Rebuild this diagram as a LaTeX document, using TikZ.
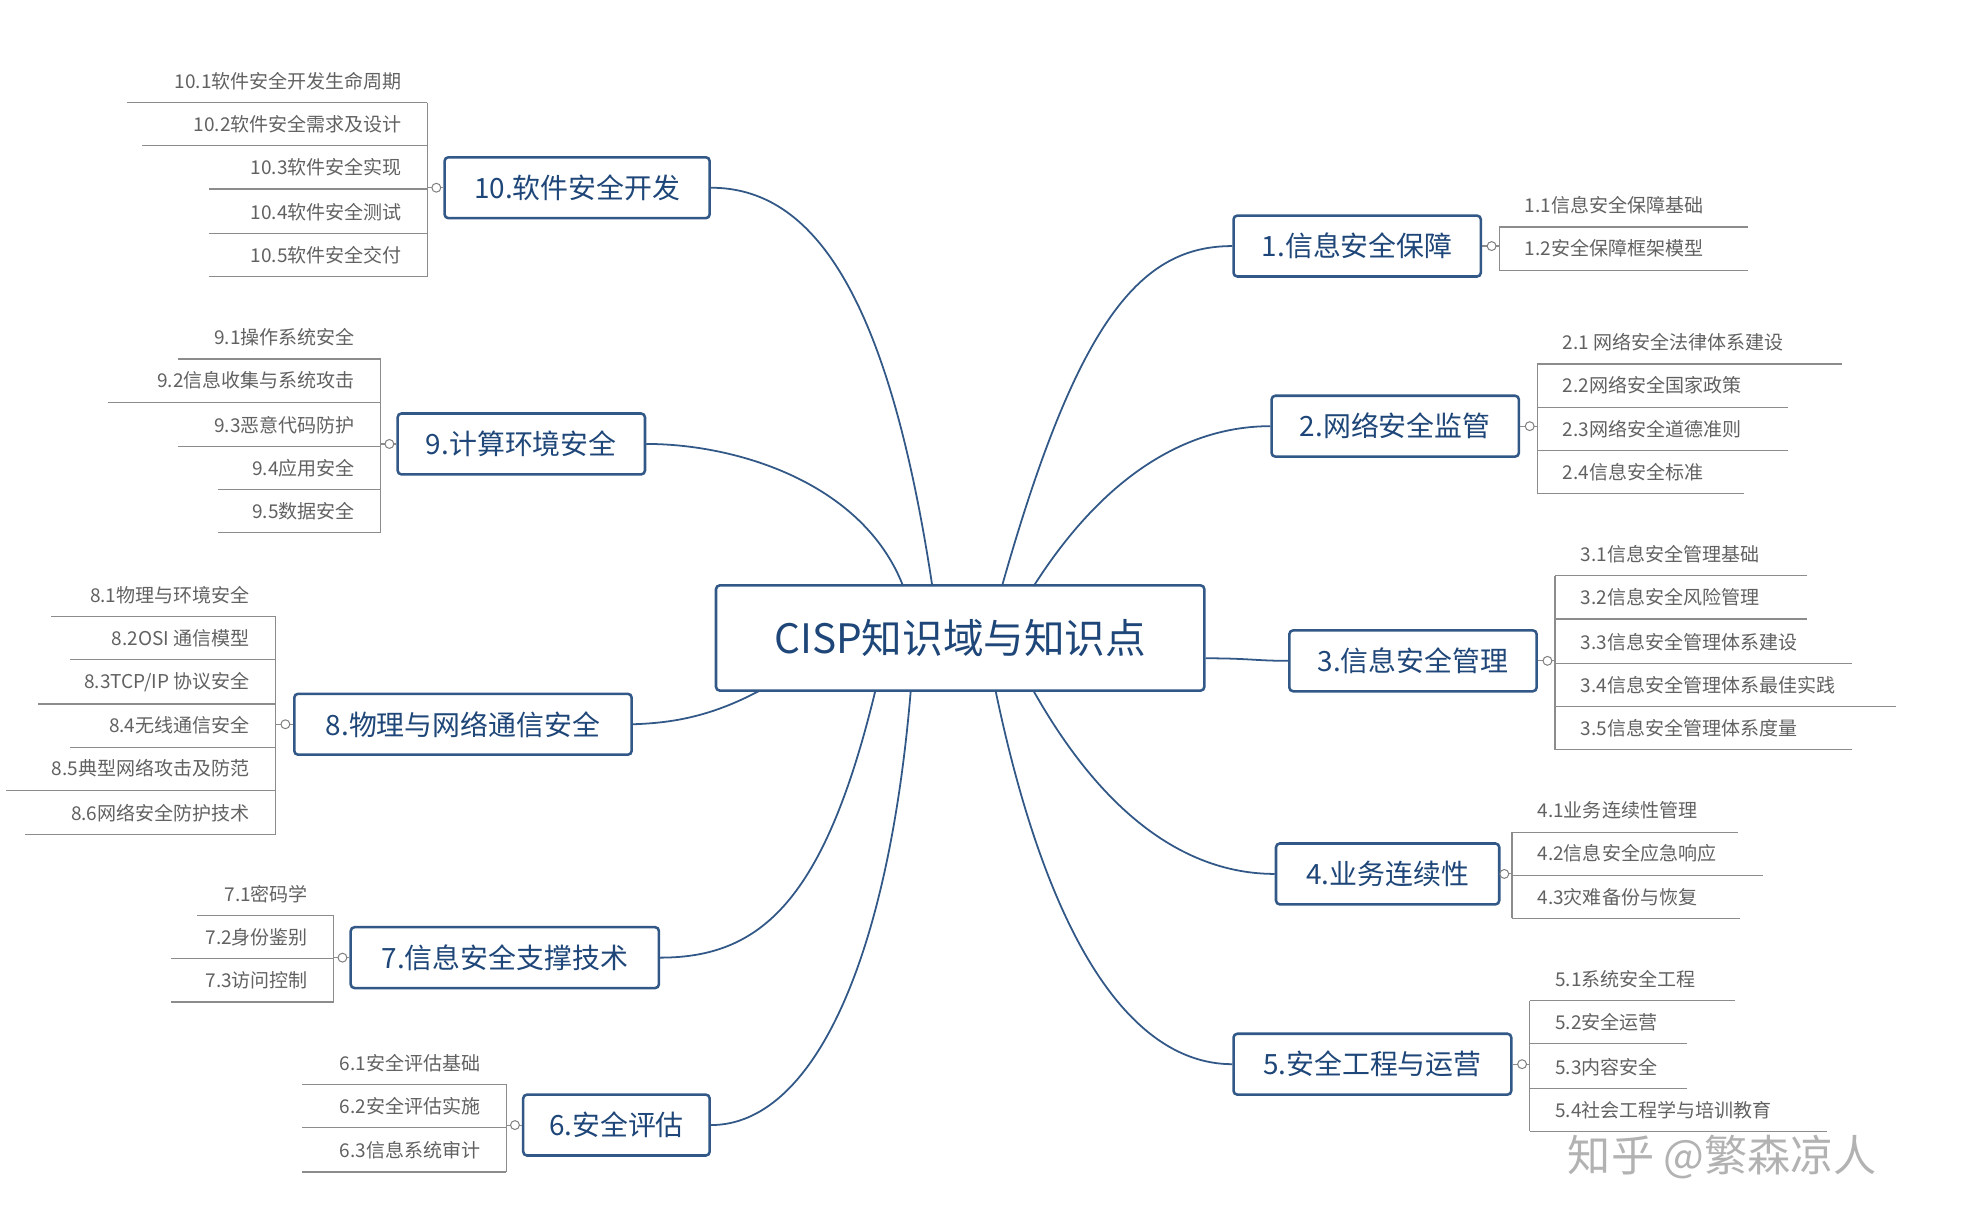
\documentclass[tikz,border=0pt]{standalone}
\usepackage{fontspec}
\setmainfont{Noto Sans CJK SC}
\definecolor{bl}{RGB}{50,88,135}
\definecolor{bt}{RGB}{30,70,120}
\begin{document}
\begin{tikzpicture}[x=1pt,y=-1pt,
  bc/.style={draw=bl,line width=2pt,rounded corners=3pt,fill=white,text=bt,inner sep=0pt},
  main/.style={bc,minimum height=48pt,font=\fontsize{22}{24}\selectfont},
  item/.style={text=black!62,font=\fontsize{15}{17}\selectfont,inner sep=0pt},
  ln/.style={draw=bl,line width=1.4pt},
  thin/.style={draw=black!45,line width=0.9pt},
  dot/.style={circle,draw=black!50,fill=white,line width=0.8pt,minimum size=7pt,inner sep=0pt}]
\useasboundingbox (0,0) rectangle (1550,966);
\node[bc,minimum width=385pt,minimum height=83pt,font=\fontsize{32}{34}\selectfont] (c) at (757,503) {CISP知识域与知识点};
\node[main,minimum width=195pt] (n1) at (1070,194) {1.信息安全保障};
\node[main,minimum width=195pt] (n2) at (1100,336) {2.网络安全监管};
\node[main,minimum width=195pt] (n3) at (1114,521) {3.信息安全管理};
\node[main,minimum width=176pt] (n4) at (1094,689) {4.业务连续性};
\node[main,minimum width=219pt] (n5) at (1082,839) {5.安全工程与运营};
\node[main,minimum width=147pt] (n6) at (486,887) {6.安全评估};
\node[main,minimum width=243pt] (n7) at (398,755) {7.信息安全支撑技术};
\node[main,minimum width=266pt] (n8) at (365,571) {8.物理与网络通信安全};
\node[main,minimum width=195pt] (n9) at (411,350) {9.计算环境安全};
\node[main,minimum width=209pt] (n10) at (455,148) {10.软件安全开发};
\coordinate (c1) at (790,462);\coordinate (c2) at (815,462);
\coordinate (c4) at (815,545);\coordinate (c5) at (785,545);
\coordinate (c10) at (735,462);\coordinate (c9) at (712,462);
\coordinate (c8) at (598,545);\coordinate (c7) at (690,545);\coordinate (c6) at (718,545);
\draw[ln] (c1) .. controls (850,250) and (900,194) .. (n1.west);
\draw[ln] (c2) .. controls (880,360) and (950,336) .. (n2.west);
\draw[ln] (c.east |- 0,519) .. controls (985,519) and (990,521) .. (n3.west);
\draw[ln] (c4) .. controls (880,660) and (950,689) .. (n4.west);
\draw[ln] (c5) .. controls (830,760) and (900,839) .. (n5.west);
\draw[ln] (c10) .. controls (700,230) and (640,148) .. (n10.east);
\draw[ln] (c9) .. controls (680,380) and (580,350) .. (n9.east);
\draw[ln] (c8) .. controls (560,565) and (530,570) .. (n8.east);
\draw[ln] (c7) .. controls (650,710) and (600,755) .. (n7.east);
\draw[ln] (c6) .. controls (700,760) and (640,887) .. (n6.east);
% right groups
\foreach \g/\xb/\lst in {n1/1182/{162/1378/1.1信息安全保障基础,196/1378/1.2安全保障框架模型},
 n2/1212/{270/1452/2.1 网络安全法律体系建设,304/1410/2.2网络安全国家政策,338/1410/2.3网络安全道德准则,372/1375/2.4信息安全标准},
 n3/1226/{437/1425/3.1信息安全管理基础,471/1425/3.2信息安全风险管理,506/1460/3.3信息安全管理体系建设,540/1495/3.4信息安全管理体系最佳实践,574/1460/3.5信息安全管理体系度量},
 n4/1192/{639/1370/4.1业务连续性管理,673/1390/4.2信息安全应急响应,707/1372/4.3灾难备份与恢复},
 n5/1206/{772/1368/5.1系统安全工程,806/1330/5.2安全运营,841/1330/5.3内容安全,875/1440/5.4社会工程学与培训教育}}{
  \foreach \y/\e/\t [count=\i] in \lst {
    \node[item,anchor=west] (\g i\i) at (\xb+20,\y) {\t};
    \draw[thin] (\xb,\y+17) -- (\e,\y+17);
  }
}
\foreach \g/\xb/\lst in {n10/337/{64/100/10.1软件安全开发生命周期,98/112/10.2软件安全需求及设计,132/165/10.3软件安全实现,167/165/10.4软件安全测试,201/165/10.5软件安全交付},
 n9/300/{266/140/9.1操作系统安全,300/85/9.2信息收集与系统攻击,335/140/9.3恶意代码防护,369/172/9.4应用安全,403/172/9.5数据安全},
 n8/217/{469/40/8.1物理与环境安全,503/55/8.2OSI 通信模型,538/30/{8.3TCP/IP 协议安全},572/55/8.4无线通信安全,606/5/8.5典型网络攻击及防范,641/20/8.6网络安全防护技术},
 n7/263/{705/155/7.1密码学,739/135/7.2身份鉴别,773/135/7.3访问控制},
 n6/399/{838/238/6.1安全评估基础,872/238/6.2安全评估实施,907/238/6.3信息系统审计}}{
  \foreach \y/\e/\t [count=\i] in \lst {
    \node[item,anchor=east] (\g i\i) at (\xb-20,\y) {\t};
    \draw[thin] (\xb,\y+17) -- (\e,\y+17);
  }
}
% brackets
\draw[thin] (1182,179) -- (1182,213); \draw[thin] (n1.east) -- (1182,194); \node[dot] at (1176,194) {};
\draw[thin] (1212,287) -- (1212,389); \draw[thin] (n2.east) -- (1212,336); \node[dot] at (1206,336) {};
\draw[thin] (1226,454) -- (1226,591); \draw[thin] (n3.east) -- (1226,521); \node[dot] at (1220,521) {};
\draw[thin] (1192,656) -- (1192,724); \draw[thin] (n4.east) -- (1192,689); \node[dot] at (1186,689) {};
\draw[thin] (1206,789) -- (1206,892); \draw[thin] (n5.east) -- (1206,839); \node[dot] at (1200,839) {};
\draw[thin] (337,81) -- (337,218); \draw[thin] (n10.west) -- (337,148); \node[dot] at (344,148) {};
\draw[thin] (300,283) -- (300,420); \draw[thin] (n9.west) -- (300,350); \node[dot] at (307,350) {};
\draw[thin] (217,486) -- (217,658); \draw[thin] (n8.west) -- (217,571); \node[dot] at (225,571) {};
\draw[thin] (263,722) -- (263,790); \draw[thin] (n7.west) -- (263,755); \node[dot] at (270,755) {};
\draw[thin] (399,855) -- (399,924); \draw[thin] (n6.west) -- (399,887); \node[dot] at (406,887) {};
\node[text=black!30,font=\fontsize{34}{36}\selectfont] (wm) at (1358,912) {知乎 @繁森凉人};
\end{tikzpicture}
\end{document}
